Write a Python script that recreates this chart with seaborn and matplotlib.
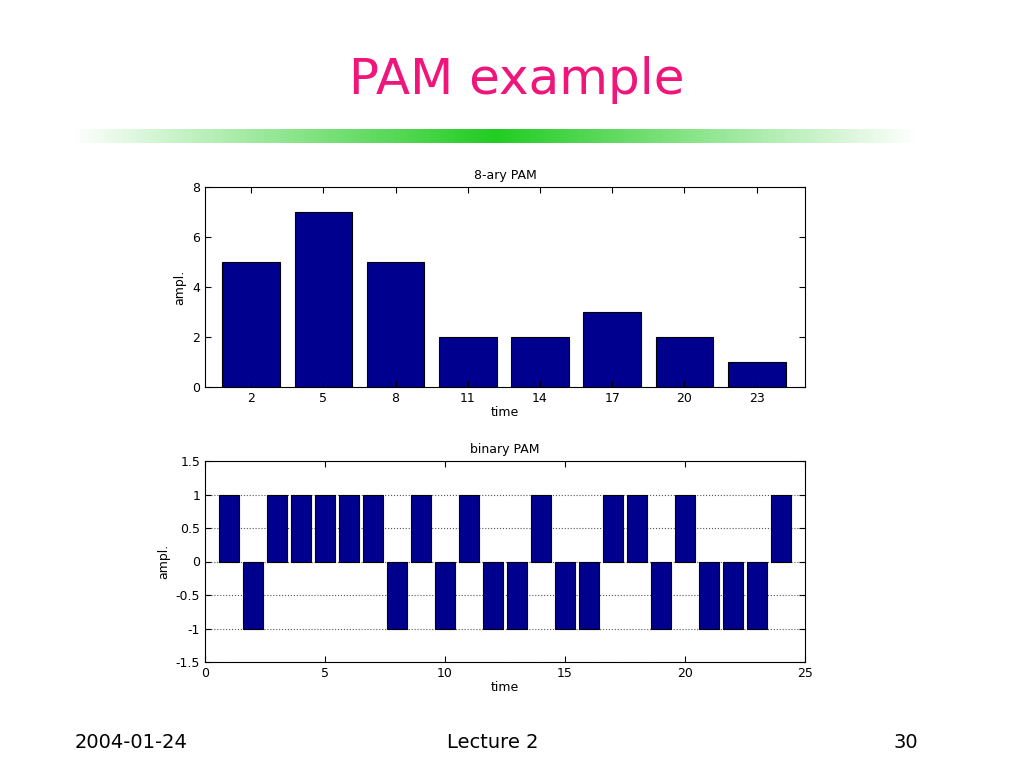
import numpy as np
import pandas as pd
import matplotlib
matplotlib.use("Agg")
import matplotlib.pyplot as plt
import seaborn as sns
from matplotlib.colors import LinearSegmentedColormap

times8 = [2, 5, 8, 11, 14, 17, 20, 23]
ampl8 = [5, 7, 5, 2, 2, 3, 2, 1]
timesb = list(range(1, 25))
amplb = [1, -1, 1, 1, 1, 1, 1, -1, 1, -1, 1, -1, -1, 1, -1, -1, 1, 1, -1, 1, -1, -1, -1, 1]

bar_color = "#00008F"
fig = plt.figure(figsize=(10.24, 7.68), dpi=100)
W, H = 1024, 768

fig.text(517/W, 1-80/H, "PAM example", color="#F0157A", fontsize=36,
         ha="center", va="center", family="DejaVu Sans")
gax = fig.add_axes([70/W, 1-143/H, 850/W, 14/H])
cmap = LinearSegmentedColormap.from_list("g", ["#FFFFFF", "#22CC22", "#FFFFFF"])
gax.imshow(np.linspace(0, 1, 400)[None, :], aspect="auto", cmap=cmap)
gax.axis("off")

fig.text(75/W, 1-742/H, "2004-01-24", fontsize=14, ha="left", va="center")
fig.text(493/W, 1-742/H, "Lecture 2", fontsize=14, ha="center", va="center")
fig.text(918/W, 1-742/H, "30", fontsize=14, ha="right", va="center")

ax1 = fig.add_axes([205/W, 1-387/H, 600/W, 200/H])
df1 = pd.DataFrame({"time": times8, "ampl": ampl8})
sns.barplot(data=df1, x="time", y="ampl", color=bar_color, saturation=1,
            width=0.8, edgecolor="black", linewidth=0.8, ax=ax1)
ax1.set_xlim(-0.64, 7.67)
ax1.set_ylim(0, 8)
ax1.set_yticks([0, 2, 4, 6, 8])
ax1.set_title("8-ary PAM", fontsize=9)
ax1.set_xlabel("time", fontsize=9, labelpad=1)
ax1.set_ylabel("ampl.", fontsize=9)

ax2 = fig.add_axes([205/W, 1-662/H, 600/W, 201/H])
df2 = pd.DataFrame({"time": timesb, "ampl": amplb})
sns.barplot(data=df2, x="time", y="ampl", color=bar_color, saturation=1,
            native_scale=True, width=0.8, edgecolor="black", linewidth=0.8, ax=ax2)
ax2.set_xlim(0, 25)
ax2.set_ylim(-1.5, 1.5)
ax2.set_yticks([-1.5, -1, -0.5, 0, 0.5, 1, 1.5])
ax2.set_yticklabels(["-1.5", "-1", "-0.5", "0", "0.5", "1", "1.5"])
ax2.set_xticks([0, 5, 10, 15, 20, 25])
ax2.yaxis.grid(True, linestyle=":", color="#555555", linewidth=0.8)
ax2.set_axisbelow(True)
ax2.set_title("binary PAM", fontsize=9)
ax2.set_xlabel("time", fontsize=9, labelpad=1)
ax2.set_ylabel("ampl.", fontsize=9)

for ax in (ax1, ax2):
    ax.tick_params(direction="in", top=True, right=True, labelsize=9, length=4)
    for s in ax.spines.values():
        s.set_linewidth(0.8)

fig.savefig("out.png", dpi=100)
